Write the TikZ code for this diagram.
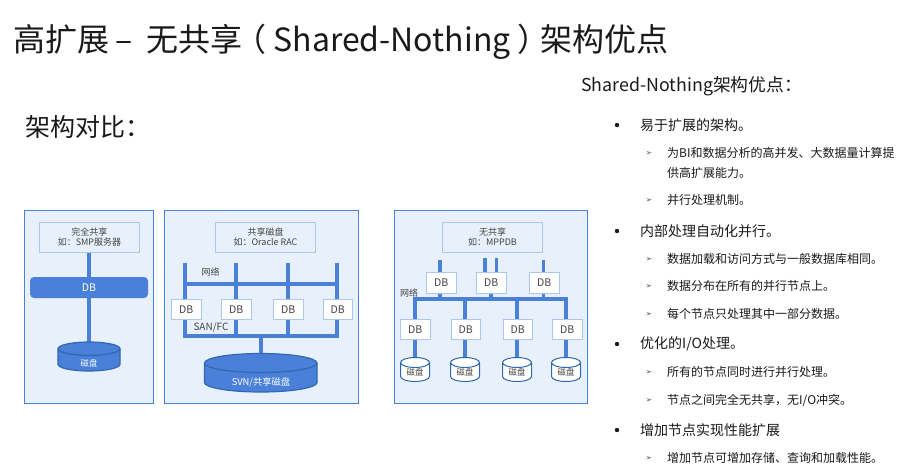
\documentclass[tikz,border=0pt]{standalone}
\usepackage{fontspec}
\setmainfont{Noto Sans CJK SC}
\newfontfamily\symfont{DejaVu Sans}
\definecolor{bluefill}{HTML}{4A80D8}
\definecolor{bluedark}{HTML}{2F68B4}
\definecolor{panelfill}{HTML}{E8F1FB}
\definecolor{hdrline}{HTML}{A9C7EF}
\definecolor{txt}{HTML}{1A1A1A}
\definecolor{dtxt}{HTML}{444444}
\newcommand{\diskshape}[7]{% x1,x2,ytop,ry,ybottom,lw,fill
  \fill[#7] (#1,{#3+#4}) -- (#1,{#5-#4}) arc[x radius={((#2)-(#1))/2},y radius=#4,start angle=180,end angle=0] -- (#2,{#3+#4}) -- cycle;
  \draw[bluedark,line width=#6] (#1,{#3+#4}) -- (#1,{#5-#4}) arc[x radius={((#2)-(#1))/2},y radius=#4,start angle=180,end angle=0] -- (#2,{#3+#4});
  \draw[bluedark,fill=#7,line width=#6] ({((#1)+(#2))/2},{#3+#4}) ellipse[x radius={((#2)-(#1))/2},y radius=#4];
}
\tikzset{
  x=1pt,y=-1pt,
  panel/.style={draw=bluefill,fill=panelfill,line width=1pt,minimum height=193pt,inner sep=0pt,anchor=north west},
  hdr/.style={draw=hdrline,fill=panelfill,line width=1pt,minimum height=29.5pt,minimum width=100pt,inner sep=0pt,align=center,anchor=north west,font=\fontsize{9}{10.5}\selectfont,text=dtxt},
  dbbox/.style={draw=hdrline,fill=white,line width=1pt,minimum width=29.5pt,minimum height=20.5pt,inner sep=0pt,anchor=north west,font=\fontsize{10.5}{11}\selectfont,text=dtxt},
  bus/.style={draw=bluefill,line width=3.2pt},
  lab/.style={inner sep=0pt,font=\fontsize{9}{10}\selectfont,text=dtxt},
  wlab/.style={inner sep=0pt,text=white},
  title/.style={inner sep=0pt,anchor=west,text=txt},
  lvla/.style={inner sep=0pt,anchor=west,font=\fontsize{14}{15}\selectfont,text=txt},
  lvlb/.style={inner sep=0pt,anchor=west,font=\fontsize{12}{13}\selectfont,text=txt},
  bula/.style={circle,fill=txt,inner sep=0pt,minimum size=4.4pt},
  bulb/.style={inner sep=0pt,font=\symfont\fontsize{7.5}{8}\selectfont,text=dtxt},
}
\begin{document}
\begin{tikzpicture}
\useasboundingbox (0,0) rectangle (914,475);
\fill[white] (0,0) rectangle (914,475);
\node[title,font=\fontsize{32}{34}\selectfont] (t) at (13,41.5) {高扩展\kern6pt–\kern14pt 无共享\kern-8pt（ Shared-Nothing ）\kern-9pt 架构优点};
\node[title,font=\fontsize{25}{26}\selectfont] (t2) at (25,127) {架构对比：};
\node[title,font=\fontsize{17.8}{20}\selectfont] (t3) at (581,86) {Shared-Nothing架构优点：};
% right list
\foreach \y/\s in {125/{易于扩展的架构。},231/{内部处理自动化并行。},344/{优化的I/O处理。},430/{增加节点实现性能扩展}}{
  \node[bula] at (617,\y) {};
  \node[lvla] at (640,\y) {\s};
}
\foreach \y/\s in {153/{为BI和数据分析的高并发、大数据量计算提},200/{并行处理机制。},259/{数据加载和访问方式与一般数据库相同。},286/{数据分布在所有的并行节点上。},314/{每个节点只处理其中一部分数据。},372/{所有的节点同时进行并行处理。},400/{节点之间完全无共享，无I/O冲突。},458/{增加节点可增加存储、查询和加载性能。}}{
  \node[bulb] at (649,\y) {➢};
  \node[lvlb] at (667,\y) {\s};
}
\node[lvlb] at (667,173) {供高扩展能力。};
% panel 1
\node[panel,minimum width=129pt] (p1) at (24,210) {};
\node[hdr] (h1) at (39,222) {完全共享\\如：SMP服务器};
\coordinate (d1t) at (89,345);
\draw[bus] (h1.south -| d1t) -- (d1t);
\node[draw=none,fill=bluefill,rounded corners=4pt,minimum width=118pt,minimum height=21pt,inner sep=0pt,font=\fontsize{10.5}{11}\selectfont,text=white] (db1) at (89,287.5) {DB};
\diskshape{58}{120}{342}{6.7}{371}{1.2pt}{bluefill}
\node[wlab,font=\fontsize{8.3}{9}\selectfont] (k1) at (89,363.5) {磁盘};
% panel 2
\node[panel,minimum width=194pt] (p2) at (164,210) {};
\node[hdr] (h2) at (215,222) {共享磁盘\\如：Oracle RAC};
\coordinate (n1) at (185,263);\coordinate (n2) at (236,263);\coordinate (n3) at (288,263);\coordinate (n4) at (337,263);
\coordinate (b1) at (185,336);\coordinate (b2) at (236,336);\coordinate (b3) at (288,336);\coordinate (b4) at (337,336);
\foreach \i in {1,2,3,4} \draw[bus] (n\i) -- (b\i);
\draw[bus] (185,284) -- (337,284);
\draw[bus] (183.4,336) -- (338.6,336);
\coordinate (c2) at (261,336);\coordinate (c2b) at (261,356);
\draw[bus] (c2) -- (c2b);
\node[dbbox] (a1) at (171,298.5) {DB};
\node[dbbox] (a2) at (221,298.5) {DB};
\node[dbbox] (a3) at (273,298.5) {DB};
\node[dbbox] (a4) at (322.5,298.5) {DB};
\node[lab] (w2) at (210.5,272) {网络};
\node[lab,font=\fontsize{10}{11}\selectfont] (s2) at (211,327.5) {SAN/FC};
\diskshape{204.5}{317}{353.5}{9.5}{392}{1.2pt}{bluefill}
\node[wlab,font=\fontsize{9.3}{10}\selectfont] (k2) at (261,382) {SVN/共享磁盘};
% panel 3
\node[panel,minimum width=193pt] (p3) at (394,210) {};
\node[hdr] (h3) at (442,222) {无共享\\如：MPPDB};
\coordinate (u1) at (440,260);\coordinate (u2) at (485,258);\coordinate (u3) at (496.5,258);\coordinate (u4) at (543.5,260);
\draw[bus] (u1) -- (440,299);
\draw[bus,line width=3.8pt] (u2) -- (485,272);
\draw[bus] (u3) -- (496.5,272);
\draw[bus] (491,290) -- (491,299);
\draw[bus] (u4) -- (543.5,299);
\draw[bus] (413.4,299) -- (567.6,299);
\foreach \x in {415,465,517,566} {
  \draw[bus] (\x,299) -- (\x,360);
  \diskshape{\x-14.5}{\x+14.5}{357.5}{5}{381.5}{1pt}{white}
}
\node[dbbox] (c1) at (426,272) {DB};
\node[dbbox] (c2x) at (476,272) {DB};
\node[dbbox] (c3) at (529,272) {DB};
\node[dbbox] (e1) at (400,318.5) {DB};
\node[dbbox] (e2) at (450.5,318.5) {DB};
\node[dbbox] (e3) at (502.5,318.5) {DB};
\node[dbbox] (e4) at (552,318.5) {DB};
\node[lab] (w3) at (409,293) {网络};
\foreach \x/\n in {415/m1,465/m2,517/m3,566/m4} \node[lab,font=\fontsize{8.3}{9}\selectfont] (\n) at (\x,372.5) {磁盘};
\end{tikzpicture}
\end{document}
